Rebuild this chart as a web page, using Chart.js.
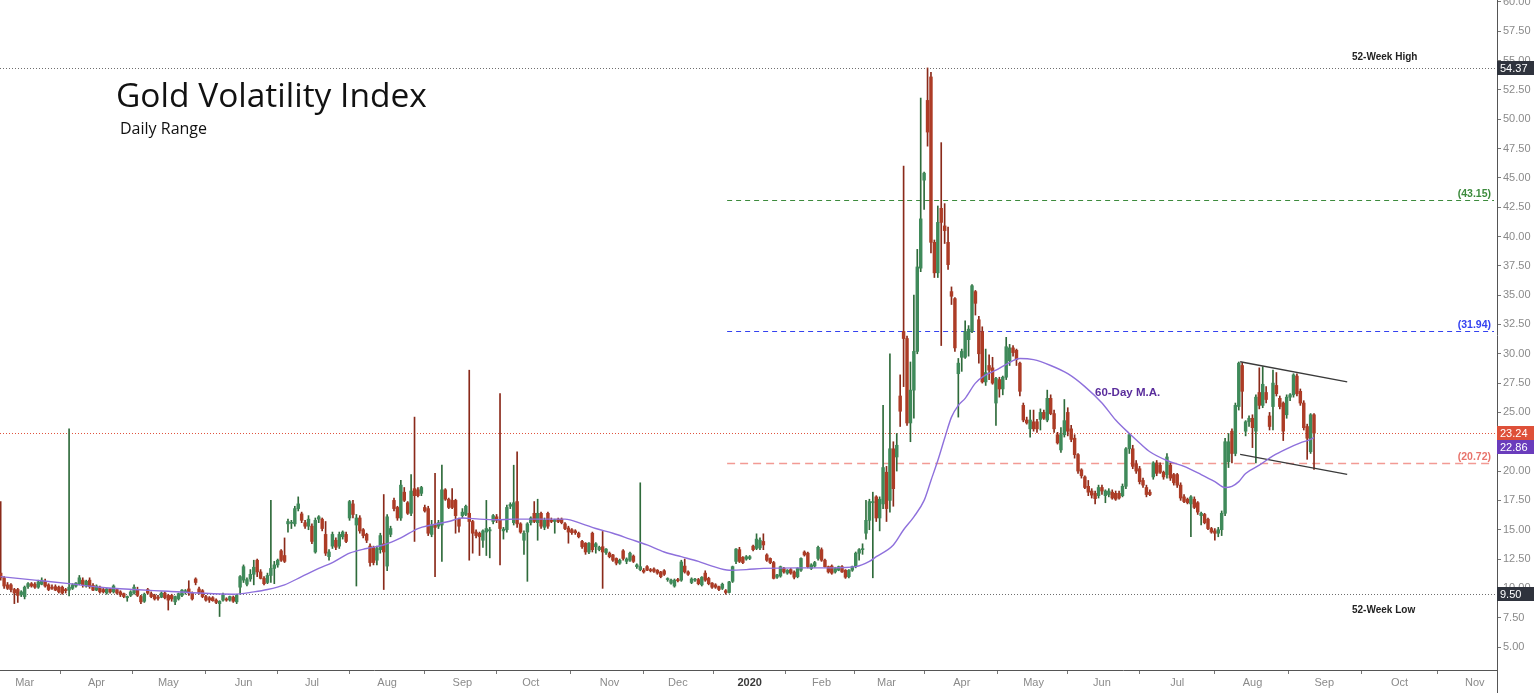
<!DOCTYPE html>
<html>
<head>
<meta charset="utf-8">
<script src="https://cdn.jsdelivr.net/npm/chart.js@4.4.0/dist/chart.umd.min.js"></script>
<style>
  html, body { margin: 0; padding: 0; background: #fff; overflow: hidden; }
  #wrap { width: 1536px; height: 693px; position: relative; }
</style>
</head>
<body>
<div id="wrap"><canvas id="chart"></canvas></div>
<script>
// Daily candles, one per trading session. Index 0 = 20 Feb 2019, last = 28 Aug 2020
const opens = [
  11.3, 10.9, 10.3, 10.3, 9.9, 9.9, 9.45, 9.3, 10.15, 10.4,
  10.35, 10.1, 10.35, 10.6, 10.3, 10.1, 10.15, 10.1, 10.1, 9.9,
  9.85, 10.0, 10.2, 10.4, 10.7, 10.2, 10.7, 10.25, 9.85, 10.1,
  9.9, 9.6, 9.95, 9.7, 9.9, 9.7, 9.55, 9.2, 9.4, 9.6,
  9.9, 9.3, 8.9, 9.9, 9.55, 9.4, 9.25, 9.25, 9.6, 9.4,
  9.4, 8.85, 9.1, 9.4, 9.7, 9.95, 9.6, 10.8, 9.95, 9.8,
  9.3, 9.2, 9.2, 9.0, 8.7, 9.0, 9.1, 9.0, 9.25, 8.85,
  10.1, 10.7, 10.35, 10.8, 11.2, 12.4, 11.4, 10.85, 10.5, 11.1,
  11.7, 12.0, 13.2, 12.8, 15.5, 15.55, 15.5, 16.8, 16.35, 15.6,
  15.3, 15.3, 13.1, 15.9, 15.9, 14.6, 12.7, 13.6, 14.1, 13.6,
  14.4, 14.6, 16.0, 17.2, 15.4, 16.0, 15.0, 14.6, 13.6, 13.5,
  12.4, 13.3, 13.8, 11.9, 14.6, 17.5, 16.9, 16.0, 18.2, 17.3,
  16.4, 18.5, 18.4, 18.1, 16.9, 16.8, 14.6, 15.4, 15.3, 15.4,
  18.4, 17.6, 17.5, 17.5, 15.9, 16.2, 16.3, 16.4, 15.7, 14.8,
  14.7, 14.1, 14.8, 14.9, 15.7, 16.1, 15.8, 14.9, 15.0, 17.0,
  15.6, 17.4, 15.5, 14.1, 14.8, 15.6, 16.4, 15.6, 16.4, 15.2,
  16.4, 15.8, 15.7, 15.9, 15.9, 15.5, 15.15, 15.0, 14.9, 14.7,
  14.0, 13.85, 13.1, 14.7, 13.55, 13.3, 13.55, 13.05, 13.0, 12.85,
  12.55, 12.15, 13.2, 12.3, 12.4, 12.75, 11.85, 11.6, 11.55, 11.85,
  11.6, 11.65, 11.55, 11.4, 11.5, 10.75, 10.45, 10.2, 10.75, 10.7,
  11.9, 11.4, 10.5, 10.7, 10.75, 10.3, 11.3, 10.85, 10.45, 10.3,
  10.15, 10.0, 9.8, 9.65, 10.6, 12.3, 13.3, 12.65, 12.5, 12.55,
  13.6, 13.4, 13.45, 14.0, 12.85, 12.55, 12.2, 10.95, 11.05, 11.7,
  11.3, 11.6, 11.4, 11.0, 11.55, 13.1, 13.0, 11.7, 11.9, 12.55,
  13.3, 12.4, 11.85, 11.9, 11.4, 11.55, 11.85, 11.55, 11.0, 11.55,
  11.85, 13.0, 13.3, 14.7, 15.8, 17.3, 17.8, 16.0, 17.2, 19.9,
  17.5, 21.9, 21.2, 26.4, 31.9, 31.3, 24.1, 26.9, 30.2, 37.3,
  44.8, 51.6, 53.6, 39.5, 36.9, 42.4, 40.9, 39.5, 35.3, 34.7,
  28.3, 29.7, 29.7, 31.2, 31.9, 35.3, 32.9, 31.9, 27.6, 29.0,
  28.8, 25.8, 27.8, 27.0, 28.0, 29.4, 30.5, 30.3, 29.2, 25.6,
  24.35, 23.6, 24.2, 24.2, 24.4, 25.0, 24.35, 26.2, 24.9, 23.1,
  21.8, 23.1, 25.0, 23.6, 22.8, 21.4, 20.1, 19.5, 18.7, 18.3,
  18.1, 17.9, 18.6, 17.9, 18.0, 18.2, 18.1, 18.1, 17.9, 18.7,
  21.9, 21.9, 20.6, 20.2, 19.2, 18.6, 18.2, 19.5, 20.7, 20.5,
  19.9, 19.7, 20.5, 19.7, 19.7, 18.8, 17.8, 17.6, 17.2, 17.6,
  17.3, 16.2, 16.3, 15.9, 15.1, 14.9, 14.7, 15.0, 16.4, 20.8,
  23.4, 21.5, 25.5, 29.0, 23.4, 24.2, 24.5, 23.4, 26.7, 25.6,
  26.7, 24.7, 25.5, 27.3, 26.2, 25.8, 24.8, 26.3, 26.5, 28.1,
  26.8, 25.8, 23.8, 21.65, 24.8
];
const highs = [
  17.4, 11.0, 10.5, 10.4, 10.0, 10.0, 9.8, 10.2, 10.5, 10.5,
  10.5, 10.7, 10.9, 10.8, 10.4, 10.3, 10.3, 10.2, 10.2, 10.0,
  23.6, 10.4, 10.5, 11.1, 10.9, 10.7, 10.9, 10.4, 10.3, 10.2,
  10.0, 10.0, 10.0, 10.3, 10.0, 9.8, 9.6, 9.35, 9.8, 10.3,
  10.1, 9.4, 9.6, 10.0, 9.7, 9.5, 9.4, 9.7, 9.7, 9.5,
  9.5, 9.35, 9.6, 9.9, 9.9, 10.65, 9.7, 10.9, 10.1, 9.9,
  9.4, 9.3, 9.3, 9.1, 8.95, 9.6, 9.2, 9.35, 9.35, 9.5,
  11.1, 12.0, 10.9, 11.6, 12.4, 12.5, 11.6, 11.0, 11.3, 17.5,
  12.3, 12.5, 13.3, 14.3, 15.9, 15.8, 17.0, 17.8, 16.5, 15.8,
  16.2, 15.5, 16.0, 16.2, 16.0, 15.7, 13.3, 14.8, 14.3, 14.8,
  14.9, 14.8, 17.5, 17.5, 16.3, 16.2, 15.1, 14.7, 13.8, 13.6,
  13.6, 14.7, 18.0, 16.3, 15.3, 17.7, 17.0, 19.2, 18.6, 17.4,
  19.7, 24.6, 18.6, 18.7, 17.1, 17.0, 15.8, 19.8, 15.8, 20.5,
  18.5, 17.7, 18.5, 17.6, 16.0, 16.8, 17.1, 28.6, 15.8, 15.0,
  14.8, 15.0, 17.5, 15.2, 16.3, 16.3, 26.6, 15.2, 17.1, 17.3,
  20.5, 21.65, 15.6, 14.9, 15.6, 16.1, 17.4, 17.6, 16.5, 16.0,
  16.5, 16.0, 15.9, 16.0, 16.0, 15.6, 15.3, 15.1, 15.0, 14.8,
  14.1, 13.9, 13.9, 14.8, 13.9, 13.6, 14.85, 13.4, 13.1, 12.9,
  12.6, 12.5, 13.3, 12.6, 13.1, 12.85, 12.1, 19.0, 11.7, 11.95,
  11.7, 11.75, 11.6, 11.45, 11.6, 10.9, 10.8, 10.8, 10.85, 12.4,
  12.5, 11.5, 10.9, 10.85, 10.85, 11.0, 11.5, 10.95, 10.5, 10.4,
  10.2, 10.45, 9.9, 10.6, 11.9, 13.4, 13.5, 12.7, 12.8, 12.8,
  13.7, 14.65, 14.3, 14.65, 12.95, 12.6, 12.3, 11.2, 11.9, 11.8,
  11.6, 11.7, 11.5, 11.75, 12.6, 13.2, 13.1, 12.1, 12.3, 13.6,
  13.45, 12.5, 11.9, 12.0, 11.8, 11.9, 11.95, 11.6, 11.6, 11.9,
  13.1, 13.4, 13.8, 17.5, 17.6, 18.2, 17.9, 17.8, 25.6, 20.4,
  30.0, 22.5, 23.2, 28.2, 46.0, 31.5, 29.3, 35.0, 38.9, 51.8,
  45.5, 54.37, 54.0, 39.7, 42.6, 48.0, 42.8, 40.8, 35.7, 34.8,
  29.6, 30.4, 32.8, 32.4, 35.9, 35.4, 33.2, 32.3, 30.4, 29.9,
  29.7, 28.0, 28.0, 28.1, 31.4, 30.8, 30.7, 30.4, 29.3, 25.8,
  24.6, 25.2, 25.2, 24.4, 25.3, 25.2, 26.9, 26.5, 25.2, 23.3,
  23.7, 26.1, 25.4, 23.9, 23.1, 21.5, 20.2, 19.6, 19.2, 18.5,
  18.3, 18.8, 18.8, 18.4, 18.5, 18.4, 18.3, 18.3, 18.9, 22.0,
  23.2, 22.2, 20.9, 20.4, 19.4, 18.8, 18.4, 20.8, 20.9, 20.7,
  20.0, 21.5, 20.7, 19.8, 19.8, 19.0, 18.0, 17.7, 17.9, 17.8,
  17.4, 16.5, 16.4, 16.0, 15.2, 15.1, 15.2, 16.6, 22.8, 23.2,
  23.6, 25.8, 29.3, 29.2, 24.3, 24.7, 24.8, 26.5, 28.8, 28.9,
  27.2, 25.0, 28.6, 28.4, 26.4, 25.9, 26.5, 26.6, 28.3, 28.3,
  27.0, 26.0, 24.0, 24.9, 24.9
];
const lows = [
  10.7, 10.0, 9.9, 9.7, 8.7, 8.8, 9.3, 9.1, 10.0, 10.1,
  10.0, 10.0, 10.3, 10.1, 9.8, 9.9, 9.8, 9.6, 9.5, 9.6,
  9.35, 9.9, 10.1, 10.3, 10.1, 10.1, 10.0, 9.8, 9.8, 9.6,
  9.6, 9.5, 9.6, 9.6, 9.5, 9.3, 9.2, 8.9, 9.3, 9.5,
  9.3, 8.7, 8.8, 9.5, 9.2, 9.0, 9.0, 9.2, 9.1, 8.15,
  8.9, 8.6, 9.0, 9.3, 9.5, 9.4, 9.0, 10.3, 9.5, 9.2,
  8.9, 8.8, 8.9, 8.7, 7.6, 8.9, 8.9, 8.9, 8.8, 8.7,
  9.5, 10.5, 10.2, 10.6, 10.3, 11.0, 10.8, 10.3, 10.4, 10.5,
  10.4, 11.8, 12.3, 12.2, 14.8, 15.1, 15.3, 16.6, 15.6, 15.1,
  15.0, 13.8, 13.0, 15.6, 14.9, 12.8, 12.4, 13.4, 13.3, 13.4,
  14.2, 13.9, 15.8, 16.0, 10.2, 14.7, 14.3, 13.9, 11.9, 12.0,
  12.0, 13.0, 9.9, 11.5, 14.4, 16.6, 15.8, 15.8, 17.4, 16.3,
  16.2, 14.0, 17.8, 17.9, 16.5, 14.5, 14.4, 11.0, 15.1, 12.3,
  17.5, 16.8, 16.8, 14.7, 14.8, 16.0, 16.2, 12.4, 13.0, 14.3,
  12.8, 13.5, 12.8, 12.6, 15.5, 15.6, 12.0, 14.2, 14.8, 16.8,
  15.4, 15.2, 14.7, 12.9, 10.6, 15.4, 15.6, 14.1, 15.1, 15.0,
  15.1, 15.6, 14.7, 15.6, 15.5, 15.0, 13.85, 14.6, 14.6, 14.3,
  13.4, 12.9, 12.95, 13.1, 13.0, 13.2, 10.0, 12.9, 12.6, 12.3,
  12.0, 12.05, 12.4, 12.1, 12.3, 12.2, 11.7, 11.5, 11.3, 11.5,
  11.4, 11.35, 11.2, 10.9, 11.1, 10.6, 10.35, 10.1, 10.55, 10.6,
  11.3, 11.1, 10.4, 10.6, 10.3, 10.2, 10.6, 10.3, 10.0, 10.0,
  9.8, 9.9, 9.5, 9.6, 10.5, 12.1, 12.2, 12.1, 12.4, 12.45,
  13.2, 13.3, 13.3, 13.3, 12.3, 12.1, 10.8, 10.85, 10.95, 11.3,
  11.2, 11.2, 10.8, 10.9, 11.45, 12.75, 11.75, 11.6, 11.8, 12.4,
  12.3, 11.8, 11.3, 11.2, 11.3, 11.5, 11.35, 10.85, 10.9, 11.45,
  11.75, 12.4, 12.9, 14.2, 15.0, 10.9, 15.7, 14.9, 16.8, 15.7,
  16.5, 17.0, 20.0, 23.8, 27.2, 23.9, 22.5, 24.5, 30.0, 37.0,
  42.3, 47.7, 38.6, 36.5, 36.5, 30.7, 39.4, 37.2, 34.2, 30.2,
  24.6, 28.5, 29.6, 29.8, 31.8, 33.3, 29.2, 27.5, 27.3, 27.8,
  27.4, 23.9, 26.3, 26.5, 27.8, 29.0, 29.8, 29.0, 26.4, 24.2,
  24.0, 22.9, 23.4, 23.3, 23.5, 24.4, 24.2, 24.8, 23.3, 22.3,
  21.6, 22.9, 23.0, 22.5, 21.1, 19.8, 19.4, 18.5, 17.9, 17.7,
  17.2, 17.7, 18.0, 17.3, 17.8, 17.6, 17.5, 17.6, 17.8, 18.5,
  21.5, 20.2, 19.8, 18.9, 18.6, 17.8, 17.9, 19.3, 19.6, 19.8,
  19.3, 19.4, 19.2, 18.8, 18.6, 17.5, 17.3, 17.2, 14.4, 16.8,
  16.3, 15.4, 15.5, 15.0, 14.7, 14.1, 14.4, 14.5, 16.2, 20.3,
  20.7, 21.3, 25.2, 24.5, 23.0, 23.8, 22.0, 20.7, 25.3, 25.4,
  25.8, 23.5, 23.5, 26.4, 25.3, 22.6, 24.5, 26.0, 26.3, 26.4,
  25.6, 23.5, 21.0, 21.5, 20.15
];
const closes = [
  10.9, 10.2, 10.0, 9.9, 9.6, 9.4, 9.7, 10.1, 10.4, 10.2,
  10.1, 10.55, 10.7, 10.2, 9.9, 10.0, 9.85, 9.7, 9.6, 9.8,
  10.1, 10.3, 10.45, 10.9, 10.3, 10.6, 10.15, 9.85, 10.2, 9.7,
  9.7, 9.95, 9.7, 10.2, 9.6, 9.45, 9.3, 9.3, 9.7, 10.1,
  9.4, 8.85, 9.5, 9.6, 9.3, 9.1, 9.15, 9.6, 9.2, 9.0,
  9.1, 9.3, 9.55, 9.85, 9.8, 9.6, 9.1, 10.5, 9.6, 9.3,
  9.0, 9.0, 8.95, 8.8, 8.9, 9.45, 9.0, 9.3, 8.9, 9.4,
  11.0, 11.85, 10.75, 11.2, 11.8, 11.4, 10.85, 10.4, 11.1, 11.7,
  12.0, 12.4, 12.4, 12.3, 15.7, 15.6, 16.8, 17.2, 15.8, 15.3,
  15.9, 14.0, 15.8, 16.1, 15.1, 13.0, 13.1, 14.6, 13.5, 14.6,
  14.8, 14.0, 17.4, 16.3, 16.0, 14.9, 14.5, 14.1, 12.2, 12.2,
  13.4, 14.5, 13.1, 16.1, 15.1, 16.8, 16.0, 18.8, 17.5, 16.4,
  18.3, 17.9, 17.9, 18.6, 16.6, 14.7, 15.4, 15.2, 15.6, 18.4,
  17.6, 16.9, 16.9, 16.2, 15.3, 16.5, 17.0, 15.7, 14.7, 14.5,
  14.4, 14.9, 15.1, 15.0, 16.2, 15.8, 15.1, 15.05, 16.9, 17.15,
  17.3, 15.5, 14.8, 14.7, 15.5, 16.0, 15.7, 16.4, 15.3, 15.8,
  15.3, 15.7, 15.85, 15.7, 15.6, 15.1, 14.8, 14.75, 14.75, 14.4,
  13.55, 13.1, 13.85, 13.3, 13.8, 13.5, 13.1, 13.35, 12.7, 12.4,
  12.15, 12.4, 12.55, 12.5, 13.0, 12.3, 12.0, 11.85, 11.4, 11.56,
  11.5, 11.45, 11.3, 11.0, 11.2, 10.8, 10.7, 10.7, 10.65, 12.25,
  11.4, 11.2, 10.8, 10.75, 10.4, 10.95, 10.7, 10.4, 10.1, 10.1,
  9.9, 10.35, 9.65, 10.55, 11.85, 13.35, 12.3, 12.2, 12.7, 12.7,
  13.3, 14.2, 14.1, 13.7, 12.4, 12.2, 10.85, 11.15, 11.85, 11.4,
  11.55, 11.3, 10.95, 11.7, 12.55, 12.85, 11.85, 12.0, 12.2, 13.5,
  12.4, 11.85, 11.4, 11.3, 11.7, 11.85, 11.4, 10.95, 11.55, 11.85,
  13.0, 13.3, 13.35, 15.8, 17.4, 17.4, 16.0, 17.6, 20.3, 16.8,
  21.9, 18.5, 22.2, 25.1, 31.3, 24.1, 26.9, 30.2, 37.4, 41.5,
  45.4, 48.9, 39.5, 36.9, 41.2, 41.2, 40.5, 37.6, 34.9, 30.5,
  29.2, 30.2, 31.9, 32.1, 35.8, 34.3, 30.0, 27.6, 28.4, 28.6,
  27.5, 27.9, 27.0, 28.0, 30.6, 30.5, 30.1, 29.5, 26.8, 24.35,
  24.1, 24.35, 23.6, 23.6, 25.0, 24.5, 26.2, 24.9, 23.6, 22.4,
  23.1, 24.3, 23.4, 22.7, 21.4, 20.0, 19.6, 18.6, 18.2, 17.95,
  17.65, 18.6, 18.3, 18.3, 18.3, 17.7, 17.6, 17.7, 18.7, 21.9,
  23.1, 20.4, 20.0, 19.1, 18.8, 18.0, 18.0, 20.7, 19.8, 19.9,
  19.5, 21.2, 19.4, 19.0, 18.8, 17.7, 17.4, 17.3, 17.8, 16.9,
  16.5, 16.4, 15.6, 15.1, 14.8, 14.7, 15.0, 16.4, 22.5, 22.5,
  21.5, 25.6, 29.2, 26.8, 24.2, 24.5, 23.7, 26.3, 25.6, 27.4,
  26.1, 23.8, 27.5, 26.6, 25.5, 23.4, 26.3, 26.5, 28.2, 26.6,
  25.8, 23.7, 22.8, 24.8, 23.24
];

// 60-day moving average (session index / value)
const maDays = [0, 10, 20, 29, 39, 49, 58, 68, 74, 78, 83, 88, 93, 97, 102, 107, 112, 117, 122, 126,
  131, 135, 140, 145, 150, 155, 160, 165, 170, 174, 179, 184, 189, 194, 199, 204, 208, 213, 218, 223,
  233, 243, 250, 254, 256, 261, 264, 267, 270, 272, 274, 276, 278, 280, 282, 285, 288, 291, 294, 298,
  302, 307, 312, 317, 322, 326, 330, 333, 336, 341, 346, 351, 355, 358, 360, 362, 364, 368, 372, 376,
  380, 383, 384];
const maValues = [11.0, 10.7, 10.4, 10.1, 9.9, 9.75, 9.6, 9.5, 9.7, 9.9, 10.3, 11.0, 11.7, 12.2, 13.0, 13.4, 13.7, 14.3, 15.1, 15.4,
  15.7, 16.0, 15.9, 15.85, 15.9, 15.9, 15.9, 15.9, 15.5, 15.1, 14.7, 14.2, 13.7, 13.1, 12.7, 12.3, 11.9, 11.55, 11.6, 11.7,
  11.75, 11.75, 11.85, 12.3, 12.7, 13.7, 15.0, 16.1, 17.5, 19.2, 20.9, 22.8, 24.6, 25.6, 26.2, 27.5, 28.2, 28.6, 29.1, 29.6,
  29.5, 29.0, 28.3, 27.2, 25.8, 24.35, 23.2, 22.4, 21.65, 20.9, 20.4, 19.7, 19.1, 18.6, 18.7, 19.1, 19.8, 20.5, 21.3, 21.9,
  22.4, 22.7, 22.86];

// month ticks: session index of the first session of each month
const monthDays = [7, 28, 49, 71, 91, 113, 135, 155, 178, 198, 219, 240, 259, 281, 302, 322, 344, 366, 387, 409, 431];
const monthLabels = ['Mar', 'Apr', 'May', 'Jun', 'Jul', 'Aug', 'Sep', 'Oct', 'Nov', 'Dec', '2020',
  'Feb', 'Mar', 'Apr', 'May', 'Jun', 'Jul', 'Aug', 'Sep', 'Oct', 'Nov'];
const priceTicks = [5, 7.5, 10, 12.5, 15, 17.5, 20, 22.5, 25, 27.5, 30, 32.5, 35, 37.5, 40,
  42.5, 45, 47.5, 50, 52.5, 55, 57.5, 60];

// levels drawn on the chart
const yearHigh = 54.37;
const yearLow = 9.50;
const lastClose = 23.24;
const lastMA = 22.86;
const levelValues = [43.15, 31.94, 20.72];
const levelStartDay = 212.4;

// falling wedge drawn over the last weeks
const wedgeDays = [362.4, 393.7];
const wedgeTop = [29.32, 27.6];
const wedgeBottom = [21.43, 19.72];

// ---- styles
const GREEN = '#3f8a5a', GREEN_WICK = '#2f6b3b';
const RED = '#ad3c26', RED_WICK = '#8a2a1a';
const levelColors = ['#3d8b3d', '#3442f0', '#f29a94'];
const levelTextColors = ['#3d8b3d', '#3442f0', '#e8746c'];
const levelDash = [[5, 4], [5, 4], [8, 5]];
const levelWidth = [1, 1, 1.6];
const AXIS_FONT = '"Liberation Sans", Arial, sans-serif';

Chart.defaults.font.family = AXIS_FONT;

const isUp = closes.map((c, i) => c >= opens[i]);

const bodies = closes.map((c, i) => ({ x: i, y: [opens[i], c] }));
const wicks = closes.map((c, i) => ({ x: i, y: [lows[i], highs[i]] }));
const maLine = maDays.map((d, i) => ({ x: d, y: maValues[i] }));
const upperLine = wedgeDays.map((d, i) => ({ x: d, y: wedgeTop[i] }));
const lowerLine = wedgeDays.map((d, i) => ({ x: d, y: wedgeBottom[i] }));

function hLine(ctx, py, x0, x1, color, dash, width) {
  ctx.beginPath();
  ctx.setLineDash(dash);
  ctx.lineWidth = width;
  ctx.strokeStyle = color;
  const yy = Math.round(py) + 0.5;
  ctx.moveTo(x0, yy);
  ctx.lineTo(x1, yy);
  ctx.stroke();
  ctx.setLineDash([]);
}

function priceBox(ctx, top, x0, x1, bg, text) {
  ctx.fillStyle = bg;
  ctx.fillRect(x0, top, x1 - x0, 14);
  ctx.fillStyle = '#fff';
  ctx.font = '11px ' + AXIS_FONT;
  ctx.textAlign = 'left';
  ctx.textBaseline = 'middle';
  ctx.fillText(text, x0 + 3, top + 7.5);
}

// no label overhang padding: the plot fills the canvas up to the axes
function noPadding(s) {
  s.paddingTop = 0;
  s.paddingBottom = 0;
  s.paddingLeft = 0;
  s.paddingRight = 0;
}

const overlay = {
  id: 'overlay',
  beforeDatasetsDraw(chart) {
    const { ctx, chartArea: a, scales: { x, y } } = chart;
    ctx.save();
    hLine(ctx, y.getPixelForValue(yearHigh), a.left, a.right, '#6e6e6e', [1, 2], 1);
    hLine(ctx, y.getPixelForValue(yearLow), a.left, a.right, '#6e6e6e', [1, 2], 1);
    hLine(ctx, y.getPixelForValue(lastClose), a.left, a.right, '#e0533d', [1, 2], 1);
    const x0 = x.getPixelForValue(levelStartDay);
    levelValues.forEach((v, i) => {
      hLine(ctx, y.getPixelForValue(v), x0, a.right - 3, levelColors[i], levelDash[i], levelWidth[i]);
    });
    ctx.restore();
  },
  afterDraw(chart) {
    const { ctx, chartArea: a, scales: { y } } = chart;
    ctx.save();

    // titles
    ctx.fillStyle = '#111';
    ctx.textAlign = 'left';
    ctx.textBaseline = 'alphabetic';
    ctx.font = '33.5px "Open Sans", sans-serif';
    ctx.fillText('Gold Volatility Index', 116, 107);
    ctx.font = '16px "Open Sans", sans-serif';
    ctx.fillText('Daily Range', 120, 134);

    // level captions
    ctx.font = 'bold 10.5px ' + AXIS_FONT;
    ctx.textAlign = 'right';
    levelValues.forEach((v, i) => {
      ctx.fillStyle = levelTextColors[i];
      ctx.fillText('(' + v.toFixed(2) + ')', a.right - 6, y.getPixelForValue(v) - 3);
    });

    ctx.font = 'bold 10px ' + AXIS_FONT;
    ctx.textAlign = 'left';
    ctx.textBaseline = 'middle';
    ctx.fillStyle = '#222';
    ctx.fillText('52-Week High', 1352, y.getPixelForValue(yearHigh) - 11);
    ctx.fillText('52-Week Low', 1352, y.getPixelForValue(yearLow) + 16);

    ctx.font = 'bold 11.5px ' + AXIS_FONT;
    ctx.fillStyle = '#5a2d9c';
    ctx.fillText('60-Day M.A.', 1095, 393);

    // axis line continues below the time axis
    ctx.strokeStyle = '#555';
    ctx.lineWidth = 1;
    ctx.beginPath();
    ctx.moveTo(a.right + 0.5, a.bottom);
    ctx.lineTo(a.right + 0.5, chart.height);
    ctx.stroke();

    // price boxes on the axis
    const bx0 = a.right, bx1 = chart.width - 2;
    priceBox(ctx, Math.round(y.getPixelForValue(yearHigh) - 7), bx0, bx1, '#2f333d', yearHigh.toFixed(2));
    priceBox(ctx, Math.round(y.getPixelForValue(yearLow) - 7), bx0, bx1, '#2f333d', yearLow.toFixed(2));
    const closeTop = Math.round(y.getPixelForValue(lastClose) - 7);
    priceBox(ctx, closeTop, bx0, bx1, '#de5039', lastClose.toFixed(2));
    const maTop = Math.max(Math.round(y.getPixelForValue(lastMA) - 7), closeTop + 14);
    priceBox(ctx, maTop, bx0, bx1, '#6a3cbc', lastMA.toFixed(2));

    ctx.restore();
  }
};

new Chart(document.getElementById('chart'), {
  type: 'bar',
  data: {
    datasets: [
      {
        type: 'line',
        data: maLine,
        borderColor: '#8e70dc',
        borderWidth: 1.4,
        pointRadius: 0,
        cubicInterpolationMode: 'monotone',
        order: 0
      },
      {
        type: 'line',
        data: upperLine,
        borderColor: '#3a3a3a',
        borderWidth: 1.3,
        pointRadius: 0,
        order: 0
      },
      {
        type: 'line',
        data: lowerLine,
        borderColor: '#3a3a3a',
        borderWidth: 1.3,
        pointRadius: 0,
        order: 0
      },
      {
        data: bodies,
        backgroundColor: isUp.map(u => u ? GREEN : RED),
        barThickness: 2.8,
        minBarLength: 1,
        grouped: false,
        order: 1
      },
      {
        data: wicks,
        backgroundColor: isUp.map(u => u ? GREEN_WICK : RED_WICK),
        barThickness: 1,
        grouped: false,
        order: 2
      }
    ]
  },
  options: {
    responsive: true,
    maintainAspectRatio: false,
    animation: false,
    events: [],
    layout: { padding: 0, autoPadding: false },
    plugins: { legend: { display: false }, tooltip: { enabled: false } },
    scales: {
      x: {
        type: 'linear',
        offset: false,
        min: -0.2,
        max: 437.5,
        afterBuildTicks: s => { s.ticks = monthDays.map(v => ({ value: v })); },
        afterFit: s => { s.height = 23; noPadding(s); },
        ticks: {
          autoSkip: false,
          maxRotation: 0,
          padding: 2,
          callback: (v, i) => monthLabels[i],
          color: c => (c.index === 10 ? '#3a3a3a' : '#8a8a8a'),
          font: c => ({ size: 11, weight: c.index === 10 ? 'bold' : 'normal' })
        },
        grid: { drawOnChartArea: false, drawTicks: true, tickLength: 4, color: '#777' },
        border: { display: true, color: '#555' }
      },
      y: {
        position: 'right',
        min: 3.04,
        max: 60.16,
        afterBuildTicks: s => { s.ticks = priceTicks.map(v => ({ value: v })); },
        afterFit: s => { s.width = 39; noPadding(s); },
        ticks: {
          padding: 2,
          color: '#8a8a8a',
          font: { size: 11 },
          callback: v => Number(v).toFixed(2)
        },
        grid: { drawOnChartArea: false, drawTicks: true, tickLength: 4, color: '#777' },
        border: { display: true, color: '#555' }
      }
    }
  },
  plugins: [overlay]
});
</script>
</body>
</html>
